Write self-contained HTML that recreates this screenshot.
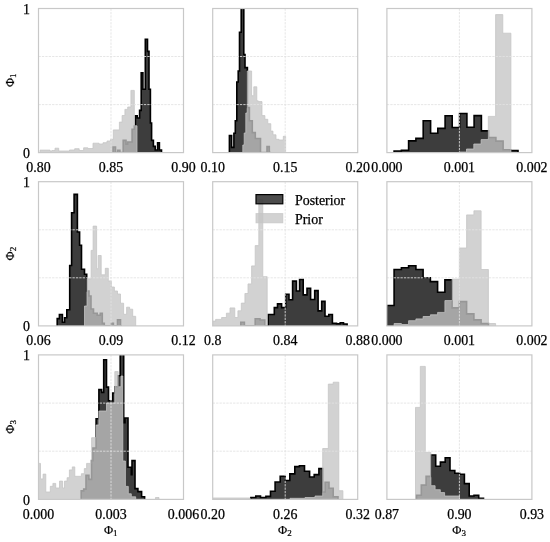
<!DOCTYPE html>
<html><head><meta charset="utf-8"><style>
html,body{margin:0;padding:0;background:#fff;}
svg{display:block;}
text{font-family:"Liberation Serif", "DejaVu Serif", serif;font-size:13.9px;fill:#000;stroke:#000;stroke-width:0.25px;}
</style></head><body>
<svg width="550" height="542" viewBox="0 0 550 542">
<rect width="550" height="542" fill="#fff"/>
<defs>
<clipPath id="c00"><rect x="38.5" y="8.5" width="145.0" height="144.1"/></clipPath>
<clipPath id="c01"><rect x="212.7" y="8.5" width="145.0" height="144.1"/></clipPath>
<clipPath id="c02"><rect x="386.9" y="8.5" width="145.0" height="144.1"/></clipPath>
<clipPath id="c10"><rect x="38.5" y="181.7" width="145.0" height="144.2"/></clipPath>
<clipPath id="c11"><rect x="212.7" y="181.7" width="145.0" height="144.2"/></clipPath>
<clipPath id="c12"><rect x="386.9" y="181.7" width="145.0" height="144.2"/></clipPath>
<clipPath id="c20"><rect x="38.5" y="354.9" width="145.0" height="144.5"/></clipPath>
<clipPath id="c21"><rect x="212.7" y="354.9" width="145.0" height="144.5"/></clipPath>
<clipPath id="c22"><rect x="386.9" y="354.9" width="145.0" height="144.5"/></clipPath>
</defs>
<g clip-path="url(#c00)">
<path d="M113.1,153.6L113.1,147.0L115.5,147.0L115.5,152.6L117.7,152.6L117.7,150.3L119.9,150.3L119.9,152.6L123.2,152.6L123.2,140.4L126.0,140.4L126.0,144.2L127.7,144.2L127.7,142.0L132.1,142.0L132.1,129.3L134.3,129.3L134.3,126.0L135.4,126.0L135.4,115.8L137.2,115.8L137.2,118.0L139.6,118.0L139.6,110.4L141.2,110.4L141.2,72.9L142.9,72.9L142.9,89.2L145.3,89.2L145.3,39.2L147.5,39.2L147.5,51.4L149.0,51.4L149.0,89.2L150.4,89.2L150.4,123.0L151.6,123.0L151.6,140.4L153.4,140.4L153.4,146.4L155.2,146.4L155.2,150.0L157.6,150.0L157.6,142.8L159.4,142.8L159.4,150.0L161.5,150.0L161.5,153.6Z" fill="#3d3d3d" stroke="#000000" stroke-width="1.6" stroke-linejoin="miter"/>
<path d="M40.0,153.6L40.0,150.1L50.0,150.1L50.0,151.0L52.0,151.0L52.0,150.5L55.0,150.5L55.0,148.2L58.7,148.2L58.7,151.0L69.5,151.0L69.5,150.0L74.7,150.0L74.7,148.7L79.2,148.7L79.2,150.5L83.6,150.5L83.6,147.8L87.8,147.8L87.8,148.5L93.0,148.5L93.0,143.2L99.0,143.2L99.0,144.0L103.0,144.0L103.0,142.7L107.0,142.7L107.0,141.0L110.5,141.0L110.5,139.3L113.3,139.3L113.3,129.9L119.4,129.9L119.4,122.1L122.1,122.1L122.1,115.5L124.9,115.5L124.9,109.4L127.7,109.4L127.7,107.0L130.9,107.0L130.9,90.4L134.3,90.4L134.3,125.8L137.0,125.8L137.0,153.6Z" fill="#c5c5c5" fill-opacity="0.77" stroke="#c5c5c5" stroke-opacity="0.77" stroke-width="1"/>
<line x1="111.0" y1="8.5" x2="111.0" y2="152.6" stroke="#e2e2e2" stroke-width="0.85" stroke-dasharray="2.3,1.1"/>
<line x1="38.5" y1="56.5" x2="183.5" y2="56.5" stroke="#e2e2e2" stroke-width="0.85" stroke-dasharray="2.3,1.1"/>
<line x1="38.5" y1="104.6" x2="183.5" y2="104.6" stroke="#e2e2e2" stroke-width="0.85" stroke-dasharray="2.3,1.1"/>
</g>
<rect x="38.5" y="8.5" width="145.0" height="144.1" fill="none" stroke="#c8c8c8" stroke-width="1.2"/>
<text x="38.5" y="171.9" text-anchor="middle">0.80</text>
<text x="111.0" y="171.9" text-anchor="middle">0.85</text>
<text x="183.5" y="171.9" text-anchor="middle">0.90</text>
<text x="29.9" y="13.6" text-anchor="end">1</text>
<text x="29.9" y="158.0" text-anchor="end">0</text>
<text transform="translate(13.9,80.3) rotate(-90)" text-anchor="middle" style="stroke-width:0.2px"><tspan font-size="12.5">Φ</tspan><tspan font-size="9" dy="2">1</tspan></text>
<g clip-path="url(#c01)">
<path d="M229.4,153.6L229.4,135.6L231.6,135.6L231.6,147.4L233.9,147.4L233.9,133.3L235.3,133.3L235.3,120.8L236.8,120.8L236.8,82.0L238.2,82.0L238.2,71.0L239.5,71.0L239.5,32.3L241.2,32.3L241.2,-5.0L243.8,-5.0L243.8,54.5L245.0,54.5L245.0,67.6L247.4,67.6L247.4,107.5L249.4,107.5L249.4,120.8L252.3,120.8L252.3,132.6L255.3,132.6L255.3,138.5L260.5,138.5L260.5,152.6L267.0,152.6L267.0,146.6L269.3,146.6L269.3,152.6L270.0,152.6L270.0,153.6Z" fill="#3d3d3d" stroke="#000000" stroke-width="1.6" stroke-linejoin="miter"/>
<path d="M242.8,153.6L242.8,145.0L244.2,145.0L244.2,133.0L245.8,133.0L245.8,113.0L247.2,113.0L247.2,71.0L251.6,71.0L251.6,95.7L253.8,95.7L253.8,86.8L256.8,86.8L256.8,100.8L258.2,100.8L258.2,101.6L262.0,101.6L262.0,115.6L264.9,115.6L264.9,119.3L267.8,119.3L267.8,123.7L270.8,123.7L270.8,131.1L273.0,131.1L273.0,134.8L276.0,134.8L276.0,139.3L278.9,139.3L278.9,140.0L283.3,140.0L283.3,136.3L285.6,136.3L285.6,153.6Z" fill="#c5c5c5" fill-opacity="0.77" stroke="#c5c5c5" stroke-opacity="0.77" stroke-width="1"/>
<line x1="285.2" y1="8.5" x2="285.2" y2="152.6" stroke="#e2e2e2" stroke-width="0.85" stroke-dasharray="2.3,1.1"/>
<line x1="212.7" y1="56.5" x2="357.7" y2="56.5" stroke="#e2e2e2" stroke-width="0.85" stroke-dasharray="2.3,1.1"/>
<line x1="212.7" y1="104.6" x2="357.7" y2="104.6" stroke="#e2e2e2" stroke-width="0.85" stroke-dasharray="2.3,1.1"/>
</g>
<rect x="212.7" y="8.5" width="145.0" height="144.1" fill="none" stroke="#c8c8c8" stroke-width="1.2"/>
<text x="212.7" y="171.9" text-anchor="middle">0.10</text>
<text x="285.2" y="171.9" text-anchor="middle">0.15</text>
<text x="357.7" y="171.9" text-anchor="middle">0.20</text>
<g clip-path="url(#c02)">
<path d="M394.1,153.6L394.1,151.0L401.4,151.0L401.4,150.3L408.6,150.3L408.6,140.9L415.9,140.9L415.9,138.4L423.2,138.4L423.2,120.8L430.6,120.8L430.6,133.3L437.8,133.3L437.8,128.4L445.1,128.4L445.1,115.7L452.2,115.7L452.2,127.5L459.6,127.5L459.6,113.5L466.9,113.5L466.9,127.3L474.1,127.3L474.1,115.6L481.4,115.6L481.4,130.9L488.6,130.9L488.6,137.5L495.9,137.5L495.9,141.1L503.1,141.1L503.1,149.8L510.4,149.8L510.4,150.5L518.0,150.5L518.0,153.6Z" fill="#3d3d3d" stroke="#000000" stroke-width="1.6" stroke-linejoin="miter"/>
<path d="M459.2,153.6L459.2,152.0L466.5,152.0L466.5,149.0L473.8,149.0L473.8,144.0L481.1,144.0L481.1,139.6L488.3,139.6L488.3,116.4L495.6,116.4L495.6,14.6L502.8,14.6L502.8,33.2L510.9,33.2L510.9,153.6Z" fill="#c5c5c5" fill-opacity="0.77" stroke="#c5c5c5" stroke-opacity="0.77" stroke-width="1"/>
<line x1="459.4" y1="8.5" x2="459.4" y2="152.6" stroke="#e2e2e2" stroke-width="0.85" stroke-dasharray="2.3,1.1"/>
<line x1="386.9" y1="56.5" x2="531.9" y2="56.5" stroke="#e2e2e2" stroke-width="0.85" stroke-dasharray="2.3,1.1"/>
<line x1="386.9" y1="104.6" x2="531.9" y2="104.6" stroke="#e2e2e2" stroke-width="0.85" stroke-dasharray="2.3,1.1"/>
</g>
<rect x="386.9" y="8.5" width="145.0" height="144.1" fill="none" stroke="#c8c8c8" stroke-width="1.2"/>
<text x="386.9" y="171.9" text-anchor="middle">0.000</text>
<text x="459.4" y="171.9" text-anchor="middle">0.001</text>
<text x="531.9" y="171.9" text-anchor="middle">0.002</text>
<g clip-path="url(#c10)">
<path d="M57.2,326.9L57.2,318.6L59.4,318.6L59.4,314.5L62.4,314.5L62.4,322.3L64.6,322.3L64.6,317.8L66.8,317.8L66.8,309.7L69.7,309.7L69.7,265.5L71.6,265.5L71.6,212.7L74.1,212.7L74.1,194.4L77.4,194.4L77.4,232.0L79.6,232.0L79.6,245.2L81.5,245.2L81.5,269.2L84.5,269.2L84.5,274.3L86.7,274.3L86.7,291.0L89.0,291.0L89.0,296.0L91.0,296.0L91.0,309.0L93.5,309.0L93.5,313.3L97.2,313.3L97.2,315.3L100.3,315.3L100.3,313.3L102.3,313.3L102.3,323.4L104.3,323.4L104.3,325.8L111.4,325.8L111.4,323.4L113.4,323.4L113.4,325.8L117.5,325.8L117.5,319.8L120.5,319.8L120.5,325.8L121.0,325.8L121.0,326.9Z" fill="#3d3d3d" stroke="#000000" stroke-width="1.6" stroke-linejoin="miter"/>
<path d="M84.5,326.9L84.5,306.0L87.0,306.0L87.0,278.8L91.1,278.8L91.1,250.4L93.1,250.4L93.1,226.1L96.6,226.1L96.6,268.7L98.2,268.7L98.2,255.5L101.2,255.5L101.2,274.8L105.3,274.8L105.3,268.3L108.3,268.3L108.3,280.9L111.4,280.9L111.4,287.0L114.4,287.0L114.4,291.0L117.5,291.0L117.5,294.0L120.5,294.0L120.5,303.2L123.6,303.2L123.6,314.3L126.6,314.3L126.6,307.2L129.6,307.2L129.6,309.2L132.7,309.2L132.7,316.3L135.7,316.3L135.7,326.9Z" fill="#c5c5c5" fill-opacity="0.77" stroke="#c5c5c5" stroke-opacity="0.77" stroke-width="1"/>
<line x1="111.0" y1="181.7" x2="111.0" y2="325.9" stroke="#e2e2e2" stroke-width="0.85" stroke-dasharray="2.3,1.1"/>
<line x1="38.5" y1="229.8" x2="183.5" y2="229.8" stroke="#e2e2e2" stroke-width="0.85" stroke-dasharray="2.3,1.1"/>
<line x1="38.5" y1="277.8" x2="183.5" y2="277.8" stroke="#e2e2e2" stroke-width="0.85" stroke-dasharray="2.3,1.1"/>
</g>
<rect x="38.5" y="181.7" width="145.0" height="144.2" fill="none" stroke="#c8c8c8" stroke-width="1.2"/>
<text x="38.5" y="345.1" text-anchor="middle">0.06</text>
<text x="111.0" y="345.1" text-anchor="middle">0.09</text>
<text x="183.5" y="345.1" text-anchor="middle">0.12</text>
<text x="29.9" y="186.8" text-anchor="end">1</text>
<text x="29.9" y="331.3" text-anchor="end">0</text>
<text transform="translate(13.9,253.6) rotate(-90)" text-anchor="middle" style="stroke-width:0.2px"><tspan font-size="12.5">Φ</tspan><tspan font-size="9" dy="2">2</tspan></text>
<g clip-path="url(#c11)">
<path d="M240.8,326.9L240.8,322.3L244.4,322.3L244.4,325.8L255.2,325.8L255.2,318.7L260.0,318.7L260.0,320.0L264.8,320.0L264.8,325.8L268.2,325.8L268.2,314.5L274.3,314.5L274.3,307.6L277.5,307.6L277.5,303.9L281.6,303.9L281.6,307.6L285.7,307.6L285.7,294.2L289.0,294.2L289.0,299.8L292.6,299.8L292.6,281.1L296.4,281.1L296.4,291.0L299.6,291.0L299.6,279.5L303.2,279.5L303.2,294.9L307.0,294.9L307.0,288.3L310.6,288.3L310.6,299.5L314.7,299.5L314.7,290.6L318.1,290.6L318.1,310.9L321.7,310.9L321.7,301.4L325.0,301.4L325.0,316.2L328.8,316.2L328.8,314.5L332.4,314.5L332.4,323.2L336.5,323.2L336.5,323.7L340.2,323.7L340.2,322.7L343.5,322.7L343.5,324.0L347.1,324.0L347.1,326.9Z" fill="#3d3d3d" stroke="#000000" stroke-width="1.6" stroke-linejoin="miter"/>
<path d="M212.7,326.9L212.7,321.1L215.6,321.1L215.6,319.4L221.6,319.4L221.6,317.5L226.4,317.5L226.4,313.2L230.0,313.2L230.0,307.9L234.8,307.9L234.8,317.5L237.9,317.5L237.9,310.8L241.3,310.8L241.3,303.1L244.9,303.1L244.9,293.5L248.0,293.5L248.0,283.9L251.6,283.9L251.6,265.9L255.2,265.9L255.2,245.6L258.8,245.6L258.8,199.5L262.8,199.5L262.8,276.7L267.2,276.7L267.2,326.9Z" fill="#c5c5c5" fill-opacity="0.77" stroke="#c5c5c5" stroke-opacity="0.77" stroke-width="1"/>
<line x1="285.2" y1="181.7" x2="285.2" y2="325.9" stroke="#e2e2e2" stroke-width="0.85" stroke-dasharray="2.3,1.1"/>
<line x1="212.7" y1="229.8" x2="357.7" y2="229.8" stroke="#e2e2e2" stroke-width="0.85" stroke-dasharray="2.3,1.1"/>
<line x1="212.7" y1="277.8" x2="357.7" y2="277.8" stroke="#e2e2e2" stroke-width="0.85" stroke-dasharray="2.3,1.1"/>
</g>
<rect x="212.7" y="181.7" width="145.0" height="144.2" fill="none" stroke="#c8c8c8" stroke-width="1.2"/>
<text x="212.7" y="345.1" text-anchor="middle">0.8</text>
<text x="285.2" y="345.1" text-anchor="middle">0.84</text>
<text x="357.7" y="345.1" text-anchor="middle">0.88</text>
<g clip-path="url(#c12)">
<path d="M386.9,326.9L386.9,305.5L394.1,305.5L394.1,269.5L401.4,269.5L401.4,267.7L408.6,267.7L408.6,265.8L415.9,265.8L415.9,269.5L423.1,269.5L423.1,277.8L430.4,277.8L430.4,281.6L437.6,281.6L437.6,292.3L444.9,292.3L444.9,279.9L452.1,279.9L452.1,307.9L459.4,307.9L459.4,301.6L466.6,301.6L466.6,313.9L473.9,313.9L473.9,319.9L481.1,319.9L481.1,323.5L488.4,323.5L488.4,326.9Z" fill="#3d3d3d" stroke="#000000" stroke-width="1.6" stroke-linejoin="miter"/>
<path d="M394.1,326.9L394.1,323.5L401.4,323.5L401.4,324.5L408.6,324.5L408.6,320.7L415.9,320.7L415.9,318.9L423.1,318.9L423.1,316.5L430.4,316.5L430.4,314.8L437.6,314.8L437.6,312.4L444.9,312.4L444.9,300.6L452.1,300.6L452.1,279.1L459.4,279.1L459.4,248.0L466.6,248.0L466.6,214.9L473.9,214.9L473.9,210.8L481.1,210.8L481.1,269.5L488.4,269.5L488.4,323.5L495.6,323.5L495.6,326.9Z" fill="#c5c5c5" fill-opacity="0.77" stroke="#c5c5c5" stroke-opacity="0.77" stroke-width="1"/>
<line x1="459.4" y1="181.7" x2="459.4" y2="325.9" stroke="#e2e2e2" stroke-width="0.85" stroke-dasharray="2.3,1.1"/>
<line x1="386.9" y1="229.8" x2="531.9" y2="229.8" stroke="#e2e2e2" stroke-width="0.85" stroke-dasharray="2.3,1.1"/>
<line x1="386.9" y1="277.8" x2="531.9" y2="277.8" stroke="#e2e2e2" stroke-width="0.85" stroke-dasharray="2.3,1.1"/>
</g>
<rect x="386.9" y="181.7" width="145.0" height="144.2" fill="none" stroke="#c8c8c8" stroke-width="1.2"/>
<text x="386.9" y="345.1" text-anchor="middle">0.000</text>
<text x="459.4" y="345.1" text-anchor="middle">0.001</text>
<text x="531.9" y="345.1" text-anchor="middle">0.002</text>
<g clip-path="url(#c20)">
<path d="M81.2,500.4L81.2,490.9L83.7,490.9L83.7,489.1L86.0,489.1L86.0,475.4L88.9,475.4L88.9,479.4L91.6,479.4L91.6,460.6L92.9,460.6L92.9,448.0L96.1,448.0L96.1,418.7L98.9,418.7L98.9,389.6L101.6,389.6L101.6,392.4L103.7,392.4L103.7,359.8L106.5,359.8L106.5,387.1L108.5,387.1L108.5,400.7L112.7,400.7L112.7,393.0L114.8,393.0L114.8,386.7L118.1,386.7L118.1,375.7L120.2,375.7L120.2,354.0L123.7,354.0L123.7,422.8L125.0,422.8L125.0,418.0L128.0,418.0L128.0,467.2L131.3,467.2L131.3,474.6L132.0,474.6L132.0,460.6L135.0,460.6L135.0,488.6L137.9,488.6L137.9,491.6L141.6,491.6L141.6,496.8L144.6,496.8L144.6,500.4Z" fill="#3d3d3d" stroke="#000000" stroke-width="1.6" stroke-linejoin="miter"/>
<path d="M38.5,500.4L38.5,463.4L40.5,463.4L40.5,478.9L43.1,478.9L43.1,474.1L45.8,474.1L45.8,492.0L50.3,492.0L50.3,486.3L52.9,486.3L52.9,483.4L55.7,483.4L55.7,488.0L59.5,488.0L59.5,481.1L62.6,481.1L62.6,488.0L64.5,488.0L64.5,481.1L67.1,481.1L67.1,477.7L69.4,477.7L69.4,469.9L72.3,469.9L72.3,466.9L74.8,466.9L74.8,476.3L81.4,476.3L81.4,473.7L84.3,473.7L84.3,468.6L86.6,468.6L86.6,463.4L91.6,463.4L91.6,437.7L96.1,437.7L96.1,425.0L98.9,425.0L98.9,411.0L106.5,411.0L106.5,403.0L114.8,403.0L114.8,371.6L118.2,371.6L118.2,386.8L121.0,386.8L121.0,376.0L122.8,376.0L122.8,461.0L125.4,461.0L125.4,486.4L128.3,486.4L128.3,493.8L131.3,493.8L131.3,496.8L135.7,496.8L135.7,499.5L155.5,499.5L155.5,497.5L159.0,497.5L159.0,500.4Z" fill="#c5c5c5" fill-opacity="0.77" stroke="#c5c5c5" stroke-opacity="0.77" stroke-width="1"/>
<line x1="111.0" y1="354.9" x2="111.0" y2="499.4" stroke="#e2e2e2" stroke-width="0.85" stroke-dasharray="2.3,1.1"/>
<line x1="38.5" y1="403.1" x2="183.5" y2="403.1" stroke="#e2e2e2" stroke-width="0.85" stroke-dasharray="2.3,1.1"/>
<line x1="38.5" y1="451.2" x2="183.5" y2="451.2" stroke="#e2e2e2" stroke-width="0.85" stroke-dasharray="2.3,1.1"/>
</g>
<rect x="38.5" y="354.9" width="145.0" height="144.5" fill="none" stroke="#c8c8c8" stroke-width="1.2"/>
<text x="38.5" y="518.5" text-anchor="middle">0.000</text>
<text x="111.0" y="518.5" text-anchor="middle">0.003</text>
<text x="183.5" y="518.5" text-anchor="middle">0.006</text>
<text x="29.9" y="360.0" text-anchor="end">1</text>
<text x="29.9" y="504.8" text-anchor="end">0</text>
<text transform="translate(13.9,426.9) rotate(-90)" text-anchor="middle" style="stroke-width:0.2px"><tspan font-size="12.5">Φ</tspan><tspan font-size="9" dy="2">3</tspan></text>
<text x="110.7" y="533.5" text-anchor="middle" style="stroke-width:0.2px"><tspan font-size="12.5">Φ</tspan><tspan font-size="9" dy="2">1</tspan></text>
<g clip-path="url(#c21)">
<path d="M250.9,500.4L250.9,497.5L255.8,497.5L255.8,496.0L260.5,496.0L260.5,497.5L265.9,497.5L265.9,496.4L270.5,496.4L270.5,491.3L275.1,491.3L275.1,482.0L280.2,482.0L280.2,476.3L285.2,476.3L285.2,480.5L289.8,480.5L289.8,473.9L294.8,473.9L294.8,466.6L299.4,466.6L299.4,465.8L304.5,465.8L304.5,471.2L309.6,471.2L309.6,477.0L314.2,477.0L314.2,474.6L318.9,474.6L318.9,468.6L322.7,468.6L322.7,492.0L325.1,492.0L325.1,482.2L329.0,482.2L329.0,488.3L333.2,488.3L333.2,496.8L338.0,496.8L338.0,500.4Z" fill="#3d3d3d" stroke="#000000" stroke-width="1.6" stroke-linejoin="miter"/>
<path d="M213.0,500.4L213.0,498.0L250.0,498.0L250.0,499.5L290.0,499.5L290.0,498.3L305.0,498.3L305.0,497.5L315.0,497.5L315.0,496.0L322.7,496.0L322.7,448.5L328.3,448.5L328.3,384.1L333.2,384.1L333.2,382.2L338.8,382.2L338.8,490.7L342.9,490.7L342.9,500.4Z" fill="#c5c5c5" fill-opacity="0.77" stroke="#c5c5c5" stroke-opacity="0.77" stroke-width="1"/>
<line x1="285.2" y1="354.9" x2="285.2" y2="499.4" stroke="#e2e2e2" stroke-width="0.85" stroke-dasharray="2.3,1.1"/>
<line x1="212.7" y1="403.1" x2="357.7" y2="403.1" stroke="#e2e2e2" stroke-width="0.85" stroke-dasharray="2.3,1.1"/>
<line x1="212.7" y1="451.2" x2="357.7" y2="451.2" stroke="#e2e2e2" stroke-width="0.85" stroke-dasharray="2.3,1.1"/>
</g>
<rect x="212.7" y="354.9" width="145.0" height="144.5" fill="none" stroke="#c8c8c8" stroke-width="1.2"/>
<text x="212.7" y="518.5" text-anchor="middle">0.20</text>
<text x="285.2" y="518.5" text-anchor="middle">0.26</text>
<text x="357.7" y="518.5" text-anchor="middle">0.32</text>
<text x="284.9" y="533.5" text-anchor="middle" style="stroke-width:0.2px"><tspan font-size="12.5">Φ</tspan><tspan font-size="9" dy="2">2</tspan></text>
<g clip-path="url(#c22)">
<path d="M416.5,500.4L416.5,495.3L421.3,495.3L421.3,485.1L426.1,485.1L426.1,476.4L430.9,476.4L430.9,455.0L435.7,455.0L435.7,466.2L440.4,466.2L440.4,462.1L445.2,462.1L445.2,457.7L450.0,457.7L450.0,470.5L454.8,470.5L454.8,473.2L459.6,473.2L459.6,474.2L464.4,474.2L464.4,483.6L469.2,483.6L469.2,496.0L474.0,496.0L474.0,495.3L478.7,495.3L478.7,498.2L483.5,498.2L483.5,500.4Z" fill="#3d3d3d" stroke="#000000" stroke-width="1.6" stroke-linejoin="miter"/>
<path d="M415.5,500.4L415.5,407.4L420.3,407.4L420.3,366.4L425.3,366.4L425.3,452.4L430.9,452.4L430.9,485.7L435.1,485.7L435.1,489.7L440.3,489.7L440.3,492.6L444.6,492.6L444.6,496.0L459.5,496.0L459.5,500.4Z" fill="#c5c5c5" fill-opacity="0.77" stroke="#c5c5c5" stroke-opacity="0.77" stroke-width="1"/>
<line x1="459.4" y1="354.9" x2="459.4" y2="499.4" stroke="#e2e2e2" stroke-width="0.85" stroke-dasharray="2.3,1.1"/>
<line x1="386.9" y1="403.1" x2="531.9" y2="403.1" stroke="#e2e2e2" stroke-width="0.85" stroke-dasharray="2.3,1.1"/>
<line x1="386.9" y1="451.2" x2="531.9" y2="451.2" stroke="#e2e2e2" stroke-width="0.85" stroke-dasharray="2.3,1.1"/>
</g>
<rect x="386.9" y="354.9" width="145.0" height="144.5" fill="none" stroke="#c8c8c8" stroke-width="1.2"/>
<text x="386.9" y="518.5" text-anchor="middle">0.87</text>
<text x="459.4" y="518.5" text-anchor="middle">0.90</text>
<text x="531.9" y="518.5" text-anchor="middle">0.93</text>
<text x="459.1" y="533.5" text-anchor="middle" style="stroke-width:0.2px"><tspan font-size="12.5">Φ</tspan><tspan font-size="9" dy="2">3</tspan></text>
<rect x="256" y="194.6" width="26.8" height="9.2" fill="#3d3d3d" fill-opacity="0.92" stroke="#000" stroke-width="1.2"/>
<rect x="256" y="213.6" width="26.8" height="9.2" fill="#c5c5c5" fill-opacity="0.77" stroke="#c5c5c5" stroke-opacity="0.77" stroke-width="1"/>
<text x="295" y="204.8">Posterior</text>
<text x="295" y="223.8">Prior</text>
</svg>
</body></html>
